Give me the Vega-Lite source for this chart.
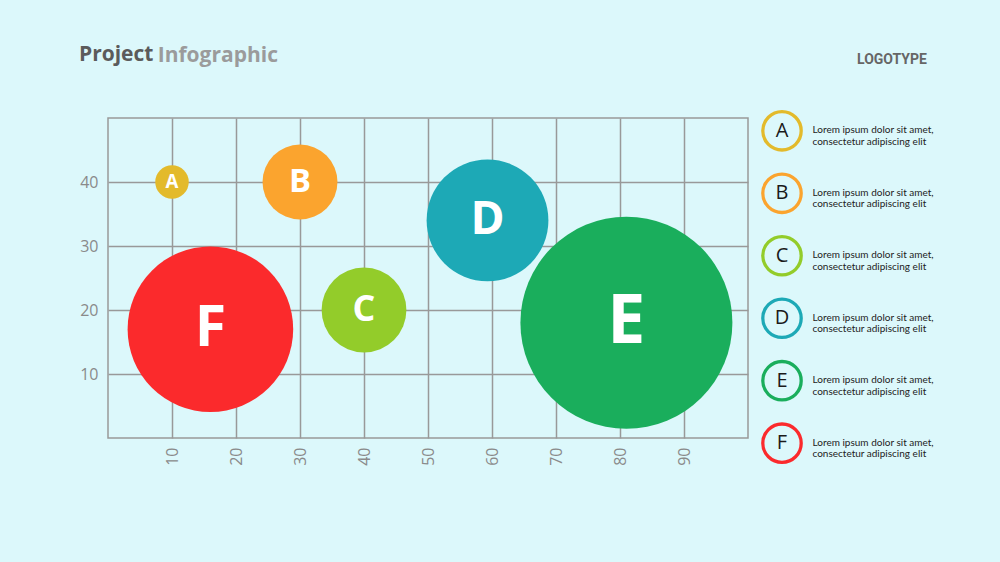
{
  "$schema": "https://vega.github.io/schema/vega-lite/v6.json",
  "background": "#DCF8FB",
  "padding": {"left": 78, "top": 44, "right": 72, "bottom": 97},
  "title": {"text": "Project", "anchor": "start", "frame": "bounds", "offset": -21, "fontSize": 21, "font": "Open Sans", "fontWeight": "bold", "color": "#5b5b5b"},
  "config": {"view": {"stroke": null}, "font": "Open Sans"},
  "datasets": {
    "bubbles": [
      {"letter": "A", "x": 10, "y": 40, "value": 5, "desc": "Lorem ipsum dolor sit amet,\nconsectetur adipiscing elit"},
      {"letter": "B", "x": 30, "y": 40, "value": 25, "desc": "Lorem ipsum dolor sit amet,\nconsectetur adipiscing elit"},
      {"letter": "C", "x": 40, "y": 20, "value": 32, "desc": "Lorem ipsum dolor sit amet,\nconsectetur adipiscing elit"},
      {"letter": "D", "x": 59.3, "y": 34, "value": 66, "desc": "Lorem ipsum dolor sit amet,\nconsectetur adipiscing elit"},
      {"letter": "E", "x": 81, "y": 18, "value": 200, "desc": "Lorem ipsum dolor sit amet,\nconsectetur adipiscing elit"},
      {"letter": "F", "x": 16, "y": 17, "value": 122, "desc": "Lorem ipsum dolor sit amet,\nconsectetur adipiscing elit"}
    ]
  },
  "bounds": "flush",
  "spacing": 14,
  "resolve": {"scale": {"x": "independent", "y": "independent"}},
  "hconcat": [
    {
      "width": 640,
      "height": 320,
      "title": {"text": "Infographic", "anchor": "start", "frame": "bounds", "dx": 78, "offset": 52, "fontSize": 21, "font": "Open Sans", "fontWeight": "bold", "color": "#9b9b9b"},
      "view": {"stroke": "#999999", "strokeWidth": 1.5},
      "data": {"name": "bubbles"},
      "encoding": {
        "x": {"field": "x", "type": "quantitative", "scale": {"domain": [0, 100], "nice": false},
          "axis": {"values": [10, 20, 30, 40, 50, 60, 70, 80, 90], "title": null, "domain": false, "ticks": false, "grid": true, "gridColor": "#999999", "gridWidth": 1.5, "gridOpacity": 1, "labelAngle": 270, "labelPadding": 9, "labelFontSize": 16, "labelColor": "#8a8a8a", "labelFont": "Open Sans"}},
        "y": {"field": "y", "type": "quantitative", "scale": {"domain": [0, 50], "nice": false},
          "axis": {"values": [10, 20, 30, 40], "title": null, "domain": false, "ticks": false, "grid": true, "gridColor": "#999999", "gridWidth": 1.5, "gridOpacity": 1, "labelPadding": 10, "labelFontSize": 16, "labelColor": "#8a8a8a", "labelFont": "Open Sans"}}
      },
      "layer": [
        {
          "mark": {"type": "circle", "opacity": 1},
          "encoding": {
            "size": {"field": "value", "type": "quantitative", "scale": {"type": "linear", "domain": [0, 200], "range": [0, 44944]}, "legend": null},
            "color": {"field": "letter", "type": "nominal", "scale": {"domain": ["A", "B", "C", "D", "E", "F"], "range": ["#E3BA2B", "#FBA42E", "#93CC2A", "#1DA9B6", "#1AAE5C", "#FB2A2C"]}, "legend": null}
          }
        },
        {
          "mark": {"type": "text", "font": "Open Sans", "fontWeight": "bold", "color": "white", "baseline": "middle", "align": "center"},
          "encoding": {
            "text": {"field": "letter", "type": "nominal"},
            "size": {"field": "value", "type": "quantitative", "scale": {"type": "pow", "exponent": 0.35, "domain": [0, 200], "range": [0, 68]}, "legend": null}
          }
        }
      ],
      "resolve": {"scale": {"size": "independent"}}
    },
    {
      "width": 40,
      "height": 338,
      "title": {"text": "LOGOTYPE", "anchor": "start", "frame": "group", "dx": 95, "offset": 38, "fontSize": 14, "font": "Roboto", "fontWeight": "bold", "color": "#666666"},
      "data": {"name": "bubbles"},
      "encoding": {
        "y": {"field": "letter", "type": "nominal", "scale": {"type": "point", "padding": 0.205}, "axis": null}
      },
      "layer": [
        {
          "mark": {"type": "point", "shape": "circle", "filled": false, "strokeWidth": 3.3, "size": 1475, "opacity": 1},
          "encoding": {
            "color": {"field": "letter", "type": "nominal", "legend": null}
          }
        },
        {
          "mark": {"type": "text", "fontSize": 20, "font": "Open Sans", "color": "#1a1a1a", "baseline": "middle", "align": "center"},
          "encoding": {"text": {"field": "letter", "type": "nominal"}}
        },
        {
          "mark": {"type": "text", "align": "left", "baseline": "alphabetic", "dx": 30.5, "dy": 2.5, "fontSize": 10, "lineHeight": 11.5, "lineBreak": "\n", "font": "Lato", "color": "#222222"},
          "encoding": {"text": {"field": "desc", "type": "nominal"}}
        }
      ]
    }
  ]
}
